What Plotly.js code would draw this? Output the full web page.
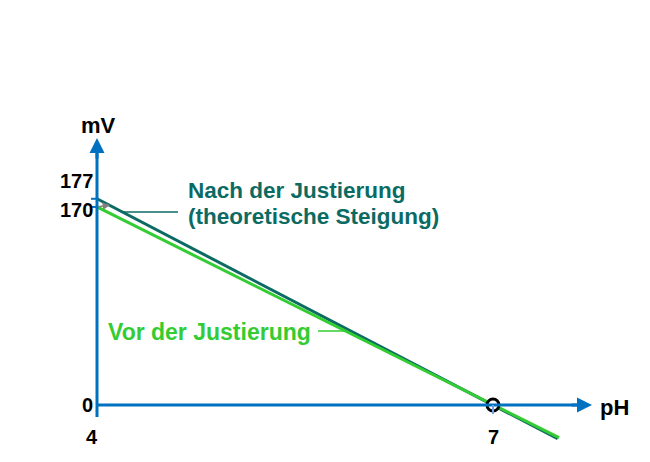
<html>
<head>
<script src="https://cdn.plot.ly/plotly-3.0.1.min.js"></script>
</head>
<body style="margin:0">
<div id="chart" style="width:650px;height:462px"></div>
<script>
// pH / mV values
var phNach = [4, 7, 7.49];
var mvNach = [177, 0, -29];
var phVor = [4, 7, 7.5];
var mvVor = [170, 0, -28];
var isoPh = [7];
var isoMv = [0];
var yTickVals = [177, 170, 0];
var yTickText = ['177', '170', '0'];
var xTickVals = [4, 7];
var xTickText = ['4', '7'];

var blue = '#0070c0';
var teal = '#0b6b63';
var green = '#33cc33';
var font = '"Liberation Sans", Arial, sans-serif';

// pixel helpers (plot area = whole page)
var X0 = 97, XS = 132, Y0 = 405, YS = 1.165;
function px2ph(p) { return 4 + (p - X0) / XS; }
function px2mv(p) { return (Y0 - p) / YS; }

var nach = { x: phNach, y: mvNach, mode: 'lines', type: 'scatter',
  line: {color: teal, width: 3}, hoverinfo: 'skip' };
var vor = { x: phVor, y: mvVor, mode: 'lines', type: 'scatter',
  line: {color: green, width: 3}, hoverinfo: 'skip' };
var iso = { x: isoPh, y: isoMv, mode: 'markers', type: 'scatter',
  marker: {color: '#ffffff', size: 12, line: {color: '#000000', width: 3}},
  hoverinfo: 'skip' };

var ann = [];
// arrow heads of the axes
ann.push({x: px2ph(592), y: 0, ax: px2ph(570), ay: 0, axref: 'x', ayref: 'y',
  showarrow: true, arrowhead: 2, arrowsize: 1, arrowwidth: 3, arrowcolor: blue, text: ''});
ann.push({x: 4, y: px2mv(138), ax: 4, ay: px2mv(160), axref: 'x', ayref: 'y',
  showarrow: true, arrowhead: 2, arrowsize: 1, arrowwidth: 3, arrowcolor: blue, text: ''});
// y tick labels (177/170 nudged apart so they don't overlap)
var yShift = [18, -3, 0];
for (var i = 0; i < yTickVals.length; i++) {
  ann.push({x: px2ph(95), y: yTickVals[i], xanchor: 'right', yanchor: 'middle',
    text: '<b>' + yTickText[i] + '</b>', showarrow: false, yshift: yShift[i],
    font: {family: font, size: 20, color: '#000'}});
}
for (var j = 0; j < xTickVals.length; j++) {
  ann.push({x: xTickVals[j], y: px2mv(437), xanchor: 'center', yanchor: 'middle',
    xshift: j == 0 ? -5 : 0,
    text: '<b>' + xTickText[j] + '</b>', showarrow: false,
    font: {family: font, size: 20, color: '#000'}});
}
ann.push({x: px2ph(98), y: px2mv(125), text: '<b>mV</b>', showarrow: false,
  font: {family: font, size: 22, color: '#000'}});
ann.push({x: px2ph(614), y: px2mv(407), text: '<b>pH</b>', showarrow: false,
  font: {family: font, size: 22, color: '#000'}});
// labels
ann.push({x: px2ph(186), y: px2mv(190), xanchor: 'left', yanchor: 'middle',
  text: '<b>Nach der Justierung</b>', showarrow: false,
  font: {family: font, size: 22.5, color: teal}});
ann.push({x: px2ph(186), y: px2mv(216), xanchor: 'left', yanchor: 'middle',
  text: '<b>(theoretische Steigung)</b>', showarrow: false,
  font: {family: font, size: 22.5, color: teal}});
ann.push({x: px2ph(106), y: px2mv(332), xanchor: 'left', yanchor: 'middle',
  text: '<b>Vor der Justierung</b>', showarrow: false,
  font: {family: font, size: 23, color: green}});
// grey adjustment arrow
ann.push({x: 4.1, y: 171.6, ax: 4, ay: 170, axref: 'x', ayref: 'y',
  showarrow: true, arrowhead: 2, arrowsize: 1, arrowwidth: 1.5, arrowcolor: '#808080', text: ''});

var shapes = [
  {type: 'line', x0: 4, x1: px2ph(580), y0: 0, y1: 0, line: {color: blue, width: 3}},
  {type: 'line', x0: 4, x1: 4, y0: px2mv(417), y1: px2mv(150), line: {color: blue, width: 3}},
  {type: 'line', x0: 7, x1: 7, y0: 0, y1: px2mv(414), line: {color: '#6fa0e8', width: 2}},
  {type: 'line', x0: px2ph(91), x1: 4, y0: 177, y1: 177, line: {color: blue, width: 2}},
  {type: 'line', x0: px2ph(91), x1: 4, y0: 170, y1: 170, line: {color: blue, width: 2}},
  {type: 'line', x0: px2ph(122), x1: px2ph(178), y0: px2mv(212), y1: px2mv(212), line: {color: teal, width: 1.5}},
  {type: 'line', x0: px2ph(318), x1: px2ph(348), y0: px2mv(331), y1: px2mv(331), line: {color: green, width: 1.5}}
];

var layout = {
  width: 650, height: 462, showlegend: false,
  margin: {l: 0, r: 0, t: 0, b: 0},
  paper_bgcolor: '#ffffff', plot_bgcolor: '#ffffff',
  xaxis: {range: [px2ph(0), px2ph(650)], visible: false, fixedrange: true},
  yaxis: {range: [px2mv(462), px2mv(0)], visible: false, fixedrange: true},
  annotations: ann, shapes: shapes
};
Plotly.newPlot('chart', [nach, vor, iso], layout, {staticPlot: true});
</script>
</body>
</html>
